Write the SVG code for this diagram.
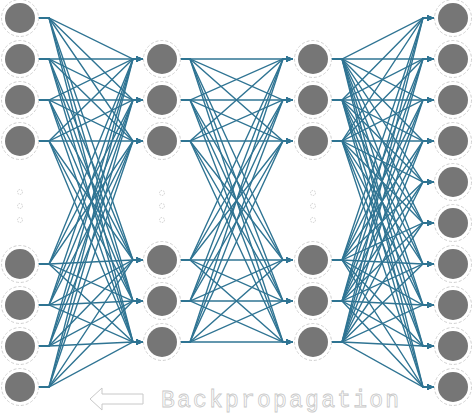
<svg xmlns="http://www.w3.org/2000/svg" width="474" height="415" viewBox="0 0 474 415">
<defs>
<marker id="ah" markerUnits="userSpaceOnUse" markerWidth="8" markerHeight="7" refX="7" refY="3" orient="auto"><path d="M0,0 L7,3 L0,6 z" fill="#2f7493"/></marker>
<style>
.ring{fill:#fff;stroke:#d0d0d0;stroke-width:1;stroke-dasharray:3 2}
.core{fill:#767676}
.dot{fill:none;stroke:#cfcfcf;stroke-width:1;stroke-dasharray:1.5 1}
.e{fill:none;stroke:#2f7493;stroke-width:1.35;marker-end:url(#ah)}
.lbl{font-family:"Liberation Mono",monospace;font-size:23px;fill:#fff;stroke:#c8c8c8;stroke-width:0.8}
</style>
</defs>
<rect width="474" height="415" fill="#fff"/>
<g id="connectors">
<path class="e" d="M36 18H49L133 59H143"/><path class="e" d="M36 18H49L133 100H143"/><path class="e" d="M36 18H49L133 141H143"/><path class="e" d="M36 18H49L133 260H143"/><path class="e" d="M36 18H49L133 301H143"/><path class="e" d="M36 18H49L133 342H143"/>
<path class="e" d="M36 59H49L133 59H143"/><path class="e" d="M36 59H49L133 100H143"/><path class="e" d="M36 59H49L133 141H143"/><path class="e" d="M36 59H49L133 260H143"/><path class="e" d="M36 59H49L133 301H143"/><path class="e" d="M36 59H49L133 342H143"/>
<path class="e" d="M36 100H49L133 59H143"/><path class="e" d="M36 100H49L133 100H143"/><path class="e" d="M36 100H49L133 141H143"/><path class="e" d="M36 100H49L133 260H143"/><path class="e" d="M36 100H49L133 301H143"/><path class="e" d="M36 100H49L133 342H143"/>
<path class="e" d="M36 141H49L133 59H143"/><path class="e" d="M36 141H49L133 100H143"/><path class="e" d="M36 141H49L133 141H143"/><path class="e" d="M36 141H49L133 260H143"/><path class="e" d="M36 141H49L133 301H143"/><path class="e" d="M36 141H49L133 342H143"/>
<path class="e" d="M36 264H49L133 59H143"/><path class="e" d="M36 264H49L133 100H143"/><path class="e" d="M36 264H49L133 141H143"/><path class="e" d="M36 264H49L133 260H143"/><path class="e" d="M36 264H49L133 301H143"/><path class="e" d="M36 264H49L133 342H143"/>
<path class="e" d="M36 305H49L133 59H143"/><path class="e" d="M36 305H49L133 100H143"/><path class="e" d="M36 305H49L133 141H143"/><path class="e" d="M36 305H49L133 260H143"/><path class="e" d="M36 305H49L133 301H143"/><path class="e" d="M36 305H49L133 342H143"/>
<path class="e" d="M36 346H49L133 59H143"/><path class="e" d="M36 346H49L133 100H143"/><path class="e" d="M36 346H49L133 141H143"/><path class="e" d="M36 346H49L133 260H143"/><path class="e" d="M36 346H49L133 301H143"/><path class="e" d="M36 346H49L133 342H143"/>
<path class="e" d="M36 387H49L133 59H143"/><path class="e" d="M36 387H49L133 100H143"/><path class="e" d="M36 387H49L133 141H143"/><path class="e" d="M36 387H49L133 260H143"/><path class="e" d="M36 387H49L133 301H143"/><path class="e" d="M36 387H49L133 342H143"/>

<path class="e" d="M178 59H190L283 59H293"/><path class="e" d="M178 59H190L283 100H293"/><path class="e" d="M178 59H190L283 141H293"/><path class="e" d="M178 59H190L283 260H293"/><path class="e" d="M178 59H190L283 301H293"/><path class="e" d="M178 59H190L283 342H293"/>
<path class="e" d="M178 100H190L283 59H293"/><path class="e" d="M178 100H190L283 100H293"/><path class="e" d="M178 100H190L283 141H293"/><path class="e" d="M178 100H190L283 260H293"/><path class="e" d="M178 100H190L283 301H293"/><path class="e" d="M178 100H190L283 342H293"/>
<path class="e" d="M178 141H190L283 59H293"/><path class="e" d="M178 141H190L283 100H293"/><path class="e" d="M178 141H190L283 141H293"/><path class="e" d="M178 141H190L283 260H293"/><path class="e" d="M178 141H190L283 301H293"/><path class="e" d="M178 141H190L283 342H293"/>
<path class="e" d="M178 260H190L283 59H293"/><path class="e" d="M178 260H190L283 100H293"/><path class="e" d="M178 260H190L283 141H293"/><path class="e" d="M178 260H190L283 260H293"/><path class="e" d="M178 260H190L283 301H293"/><path class="e" d="M178 260H190L283 342H293"/>
<path class="e" d="M178 301H190L283 59H293"/><path class="e" d="M178 301H190L283 100H293"/><path class="e" d="M178 301H190L283 141H293"/><path class="e" d="M178 301H190L283 260H293"/><path class="e" d="M178 301H190L283 301H293"/><path class="e" d="M178 301H190L283 342H293"/>
<path class="e" d="M178 342H190L283 59H293"/><path class="e" d="M178 342H190L283 100H293"/><path class="e" d="M178 342H190L283 141H293"/><path class="e" d="M178 342H190L283 260H293"/><path class="e" d="M178 342H190L283 301H293"/><path class="e" d="M178 342H190L283 342H293"/>

<path class="e" d="M329 59H342L423 18H434"/><path class="e" d="M329 59H342L423 59H434"/><path class="e" d="M329 59H342L423 100H434"/><path class="e" d="M329 59H342L423 141H434"/><path class="e" d="M329 59H342L423 182H434"/><path class="e" d="M329 59H342L423 223H434"/><path class="e" d="M329 59H342L423 264H434"/><path class="e" d="M329 59H342L423 305H434"/><path class="e" d="M329 59H342L423 346H434"/><path class="e" d="M329 59H342L423 387H434"/>
<path class="e" d="M329 100H342L423 18H434"/><path class="e" d="M329 100H342L423 59H434"/><path class="e" d="M329 100H342L423 100H434"/><path class="e" d="M329 100H342L423 141H434"/><path class="e" d="M329 100H342L423 182H434"/><path class="e" d="M329 100H342L423 223H434"/><path class="e" d="M329 100H342L423 264H434"/><path class="e" d="M329 100H342L423 305H434"/><path class="e" d="M329 100H342L423 346H434"/><path class="e" d="M329 100H342L423 387H434"/>
<path class="e" d="M329 141H342L423 18H434"/><path class="e" d="M329 141H342L423 59H434"/><path class="e" d="M329 141H342L423 100H434"/><path class="e" d="M329 141H342L423 141H434"/><path class="e" d="M329 141H342L423 182H434"/><path class="e" d="M329 141H342L423 223H434"/><path class="e" d="M329 141H342L423 264H434"/><path class="e" d="M329 141H342L423 305H434"/><path class="e" d="M329 141H342L423 346H434"/><path class="e" d="M329 141H342L423 387H434"/>
<path class="e" d="M329 260H342L423 18H434"/><path class="e" d="M329 260H342L423 59H434"/><path class="e" d="M329 260H342L423 100H434"/><path class="e" d="M329 260H342L423 141H434"/><path class="e" d="M329 260H342L423 182H434"/><path class="e" d="M329 260H342L423 223H434"/><path class="e" d="M329 260H342L423 264H434"/><path class="e" d="M329 260H342L423 305H434"/><path class="e" d="M329 260H342L423 346H434"/><path class="e" d="M329 260H342L423 387H434"/>
<path class="e" d="M329 301H342L423 18H434"/><path class="e" d="M329 301H342L423 59H434"/><path class="e" d="M329 301H342L423 100H434"/><path class="e" d="M329 301H342L423 141H434"/><path class="e" d="M329 301H342L423 182H434"/><path class="e" d="M329 301H342L423 223H434"/><path class="e" d="M329 301H342L423 264H434"/><path class="e" d="M329 301H342L423 305H434"/><path class="e" d="M329 301H342L423 346H434"/><path class="e" d="M329 301H342L423 387H434"/>
<path class="e" d="M329 342H342L423 18H434"/><path class="e" d="M329 342H342L423 59H434"/><path class="e" d="M329 342H342L423 100H434"/><path class="e" d="M329 342H342L423 141H434"/><path class="e" d="M329 342H342L423 182H434"/><path class="e" d="M329 342H342L423 223H434"/><path class="e" d="M329 342H342L423 264H434"/><path class="e" d="M329 342H342L423 305H434"/><path class="e" d="M329 342H342L423 346H434"/><path class="e" d="M329 342H342L423 387H434"/>
</g>
<g id="layer1">
<g id="in1"><circle class="ring" cx="20" cy="18" r="18.5"/><circle class="core" cx="20" cy="18" r="15"/></g>
<g id="in2"><circle class="ring" cx="20" cy="59" r="18.5"/><circle class="core" cx="20" cy="59" r="15"/></g>
<g id="in3"><circle class="ring" cx="20" cy="100" r="18.5"/><circle class="core" cx="20" cy="100" r="15"/></g>
<g id="in4"><circle class="ring" cx="20" cy="141" r="18.5"/><circle class="core" cx="20" cy="141" r="15"/></g>
<g id="in-dots"><circle class="dot" cx="20" cy="192" r="2.5"/><circle class="dot" cx="20" cy="206" r="2.5"/><circle class="dot" cx="20" cy="220" r="2.5"/></g>
<g id="in5"><circle class="ring" cx="20" cy="264" r="18.5"/><circle class="core" cx="20" cy="264" r="15"/></g>
<g id="in6"><circle class="ring" cx="20" cy="305" r="18.5"/><circle class="core" cx="20" cy="305" r="15"/></g>
<g id="in7"><circle class="ring" cx="20" cy="346" r="18.5"/><circle class="core" cx="20" cy="346" r="15"/></g>
<g id="in8"><circle class="ring" cx="20" cy="387" r="18.5"/><circle class="core" cx="20" cy="387" r="15"/></g>
</g>
<g id="layer2">
<g id="h1a"><circle class="ring" cx="162" cy="59" r="18.5"/><circle class="core" cx="162" cy="59" r="15"/></g>
<g id="h1b"><circle class="ring" cx="162" cy="100" r="18.5"/><circle class="core" cx="162" cy="100" r="15"/></g>
<g id="h1c"><circle class="ring" cx="162" cy="141" r="18.5"/><circle class="core" cx="162" cy="141" r="15"/></g>
<g id="h1-dots"><circle class="dot" cx="162" cy="193" r="2.5"/><circle class="dot" cx="162" cy="206" r="2.5"/><circle class="dot" cx="162" cy="220" r="2.5"/></g>
<g id="h1d"><circle class="ring" cx="162" cy="260" r="18.5"/><circle class="core" cx="162" cy="260" r="15"/></g>
<g id="h1e"><circle class="ring" cx="162" cy="301" r="18.5"/><circle class="core" cx="162" cy="301" r="15"/></g>
<g id="h1f"><circle class="ring" cx="162" cy="342" r="18.5"/><circle class="core" cx="162" cy="342" r="15"/></g>
</g>
<g id="layer3">
<g id="h2a"><circle class="ring" cx="313" cy="59" r="18.5"/><circle class="core" cx="313" cy="59" r="15"/></g>
<g id="h2b"><circle class="ring" cx="313" cy="100" r="18.5"/><circle class="core" cx="313" cy="100" r="15"/></g>
<g id="h2c"><circle class="ring" cx="313" cy="141" r="18.5"/><circle class="core" cx="313" cy="141" r="15"/></g>
<g id="h2-dots"><circle class="dot" cx="313" cy="193" r="2.5"/><circle class="dot" cx="313" cy="206" r="2.5"/><circle class="dot" cx="313" cy="220" r="2.5"/></g>
<g id="h2d"><circle class="ring" cx="313" cy="260" r="18.5"/><circle class="core" cx="313" cy="260" r="15"/></g>
<g id="h2e"><circle class="ring" cx="313" cy="301" r="18.5"/><circle class="core" cx="313" cy="301" r="15"/></g>
<g id="h2f"><circle class="ring" cx="313" cy="342" r="18.5"/><circle class="core" cx="313" cy="342" r="15"/></g>
</g>
<g id="layer4">
<g id="out1"><circle class="ring" cx="453" cy="18" r="18.5"/><circle class="core" cx="453" cy="18" r="15"/></g>
<g id="out2"><circle class="ring" cx="453" cy="59" r="18.5"/><circle class="core" cx="453" cy="59" r="15"/></g>
<g id="out3"><circle class="ring" cx="453" cy="100" r="18.5"/><circle class="core" cx="453" cy="100" r="15"/></g>
<g id="out4"><circle class="ring" cx="453" cy="141" r="18.5"/><circle class="core" cx="453" cy="141" r="15"/></g>
<g id="out5"><circle class="ring" cx="453" cy="182" r="18.5"/><circle class="core" cx="453" cy="182" r="15"/></g>
<g id="out6"><circle class="ring" cx="453" cy="223" r="18.5"/><circle class="core" cx="453" cy="223" r="15"/></g>
<g id="out7"><circle class="ring" cx="453" cy="264" r="18.5"/><circle class="core" cx="453" cy="264" r="15"/></g>
<g id="out8"><circle class="ring" cx="453" cy="305" r="18.5"/><circle class="core" cx="453" cy="305" r="15"/></g>
<g id="out9"><circle class="ring" cx="453" cy="346" r="18.5"/><circle class="core" cx="453" cy="346" r="15"/></g>
<g id="out10"><circle class="ring" cx="453" cy="387" r="18.5"/><circle class="core" cx="453" cy="387" r="15"/></g>
</g>
<g id="backprop">
<polygon points="90,399 102,388 102,394 143,394 143,404 102,404 102,410" fill="#fff" stroke="#c8c8c8" stroke-width="1"/>
<text class="lbl" x="161" y="407" textLength="238" lengthAdjust="spacing">Backpropagation</text>
</g>
</svg>
